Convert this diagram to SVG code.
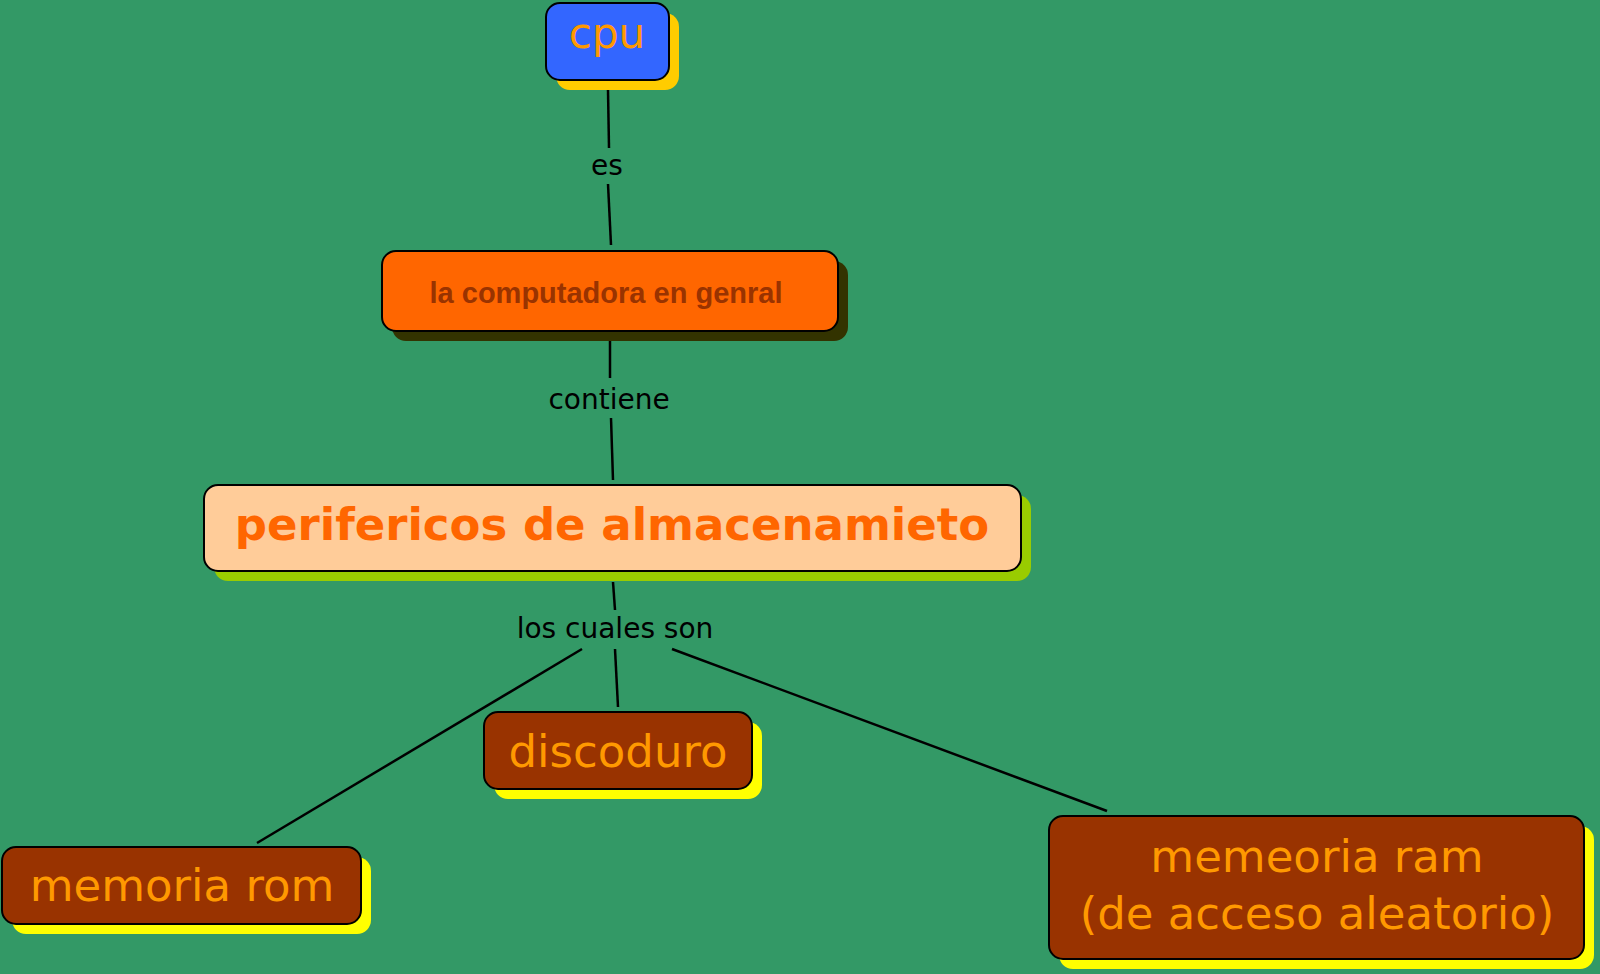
<svg xmlns="http://www.w3.org/2000/svg" width="1600" height="974" viewBox="0 0 1600 974">
<style>
.b{stroke:#000;stroke-width:2}
.t{font-family:"DejaVu Sans",Verdana,sans-serif;fill:#ff9900;text-anchor:middle}
.l{font-family:"DejaVu Sans",Verdana,sans-serif;font-size:28px;fill:#000;text-anchor:middle}
.c line{stroke:#000;stroke-width:2.5}
</style>
<rect width="1600" height="974" fill="#339966"/>
<g class="c">
<line x1="608" y1="90" x2="609" y2="148"/><line x1="608" y1="184" x2="611" y2="245"/>
<line x1="610" y1="341" x2="610" y2="378"/><line x1="611" y1="418" x2="613" y2="480"/>
<line x1="613" y1="582" x2="615" y2="610"/>
<line x1="582" y1="649" x2="257" y2="843"/><line x1="615" y1="649" x2="618" y2="707"/><line x1="672" y1="649" x2="1107" y2="811"/>
<text class="l" x="607" y="175">es</text>
<text class="l" x="609" y="409">contiene</text>
<text class="l" x="615" y="638">los cuales son</text>
</g>
<g id="cpu"><rect x="556" y="13" width="123" height="77" rx="14" fill="#ffcc00"/><rect class="b" x="546" y="3" width="123" height="77" rx="14" fill="#3366ff"/><text class="t" x="607" y="48" font-size="42">cpu</text></g>
<g id="computadora"><rect x="392" y="261" width="456" height="80" rx="14" fill="#333300"/><rect class="b" x="382" y="251" width="456" height="80" rx="14" fill="#ff6600"/><text x="606" y="303" font-family="Liberation Sans,Arial,sans-serif" font-weight="bold" font-size="29" fill="#993300" text-anchor="middle">la computadora en genral</text></g>
<g id="perifericos"><rect x="214" y="495" width="817" height="86" rx="14" fill="#99cc00"/><rect class="b" x="204" y="485" width="817" height="86" rx="14" fill="#ffcc99"/><text class="t" x="612" y="540" font-size="45" font-weight="bold" fill="#ff6600" style="fill:#ff6600">perifericos de almacenamieto</text></g>
<g id="discoduro"><rect x="494" y="722" width="268" height="77" rx="14" fill="#ffff00"/><rect class="b" x="484" y="712" width="268" height="77" rx="14" fill="#993300"/><text class="t" x="618" y="767" font-size="45">discoduro</text></g>
<g id="rom"><rect x="12" y="857" width="359" height="77" rx="14" fill="#ffff00"/><rect class="b" x="2" y="847" width="359" height="77" rx="14" fill="#993300"/><text class="t" x="182" y="901" font-size="45">memoria rom</text></g>
<g id="ram"><rect x="1059" y="826" width="535" height="143" rx="14" fill="#ffff00"/><rect class="b" x="1049" y="816" width="535" height="143" rx="14" fill="#993300"/><text class="t" x="1317" y="872" font-size="45">memeoria ram</text><text class="t" x="1317" y="929" font-size="45">(de acceso aleatorio)</text></g>
</svg>
